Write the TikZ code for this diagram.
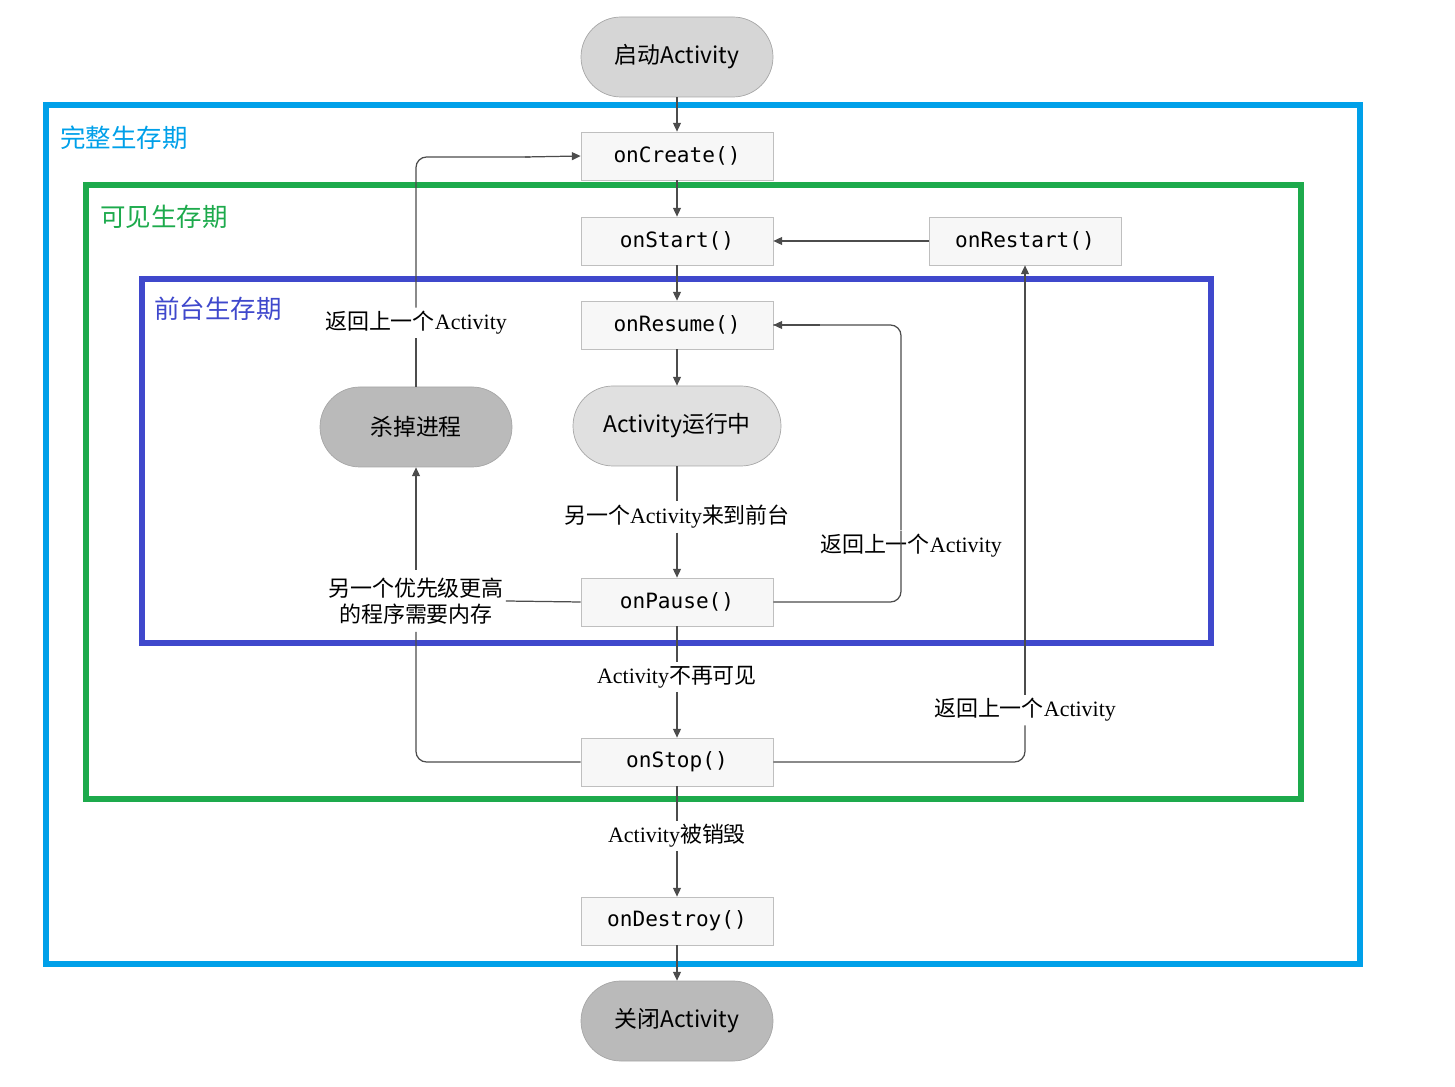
\documentclass[tikz,border=0pt]{standalone}
\usepackage{fontspec}
\setmainfont{Liberation Serif}
\setmonofont{DejaVu Sans Mono}
\newfontfamily\cjk{Noto Sans CJK SC}
\usetikzlibrary{arrows.meta}
\begin{document}
\begin{tikzpicture}[x=0.02cm,y=-0.02cm,
 box/.style={draw=black!25,fill=black!3,minimum width=192*0.02cm,minimum height=48*0.02cm,font=\ttfamily\fontsize{12}{14}\selectfont,inner sep=0},
 pill/.style={draw=black!35,rounded corners=40*0.02cm,minimum width=192*0.02cm,minimum height=80*0.02cm,font=\cjk\fontsize{13}{15}\selectfont,inner sep=0},
 lab/.style={font=\fontsize{12.5}{16}\selectfont,inner sep=2pt,align=center},
 zone/.style={line width=4*0.02cm*1.4},
 arr/.style={draw=black!70,line width=0.7pt,-{Triangle[length=5pt,width=4.5pt]}},
 ln/.style={draw=black!70,line width=0.7pt,rounded corners=6pt},
 zl/.style={anchor=west,font=\cjk\fontsize{14.5}{16}\selectfont,inner sep=0}]
\useasboundingbox (0,0) rectangle (1455,1087);
\definecolor{cy}{HTML}{00A0E9}\definecolor{gr}{HTML}{1DAA4C}\definecolor{bl}{HTML}{3F48CC}
\draw[zone,cy] (46,105) rectangle (1360,964);
\draw[zone,gr] (86,185) rectangle (1301,799);
\draw[zone,bl] (142,279) rectangle (1211,643);
\node[zl,text=cy] (z1) at (60,138) {完整生存期};
\node[zl,text=gr] (z2) at (100,217) {可见生存期};
\node[zl,text=bl] (z3) at (154,309) {前台生存期};
\node[pill,fill=black!16] (start) at (677,57) {启动Activity};
\node[box] (create) at (677,156) {onCreate()};
\node[box] (onstart) at (677,241) {onStart()};
\node[box] (restart) at (1025,241) {onRestart()};
\node[box] (resume) at (677,325) {onResume()};
\node[pill,fill=black!12,minimum width=208*0.02cm] (run) at (677,426) {Activity运行中};
\node[pill,fill=black!27] (kill) at (416,427) {杀掉进程};
\node[box] (pause) at (677,602) {onPause()};
\node[box] (stop) at (677,762) {onStop()};
\node[box] (destroy) at (677,921) {onDestroy()};
\node[pill,fill=black!27] (close) at (677,1021) {关闭Activity};
\node[lab] (l1) at (677,517) {{\cjk 另一个}Activity{\cjk 来到前台}};
\node[lab] (l2) at (677,677) {Activity{\cjk 不再可见}};
\node[lab] (l3) at (677,836) {Activity{\cjk 被销毁}};
\node[lab] (l4) at (911,546) {{\cjk 返回上一个}Activity};
\node[lab] (l5) at (1025,710) {{\cjk 返回上一个}Activity};
\node[lab] (l6) at (416,323) {{\cjk 返回上一个}Activity};
\node[lab,font=\cjk\fontsize{12.5}{15}\selectfont,inner sep=1pt] (l7) at (416,601) {另一个优先级更高\\的程序需要内存};
\draw[arr] (start) -- (create);
\draw[arr] (create) -- (onstart);
\draw[arr] (onstart) -- (resume);
\draw[arr] (resume) -- (run);
\draw[ln] (run) -- (l1);
\draw[arr] (l1) -- (pause);
\draw[ln] (pause) -- (l2);
\draw[arr] (l2) -- (stop);
\draw[ln] (stop) -- (l3);
\draw[arr] (l3) -- (destroy);
\draw[arr] (destroy) -- (close);
\draw[arr] (restart) -- (onstart);
\draw[ln] (pause.east) -| (l4.north -| 901,0) coordinate (c4);
\draw[ln] (901,530) -- (901,325) -- (resume.east) ;
\draw[arr] (820,325) -- (resume.east);
\draw[ln] (stop.east) -| (l5.south);
\draw[arr] (l5.north) -- (restart.south);
\draw[ln] (pause.west) -- (l7.east);
\draw[arr] (416,570) -- (kill.south);
\draw[ln] (stop.west) -| (416,632);
\draw[ln] (kill.north) -- (l6.south);
\draw[ln] (l6.north) |- (530,157);
\draw[arr] (525,157) -- (create.west);
\end{tikzpicture}
\end{document}
